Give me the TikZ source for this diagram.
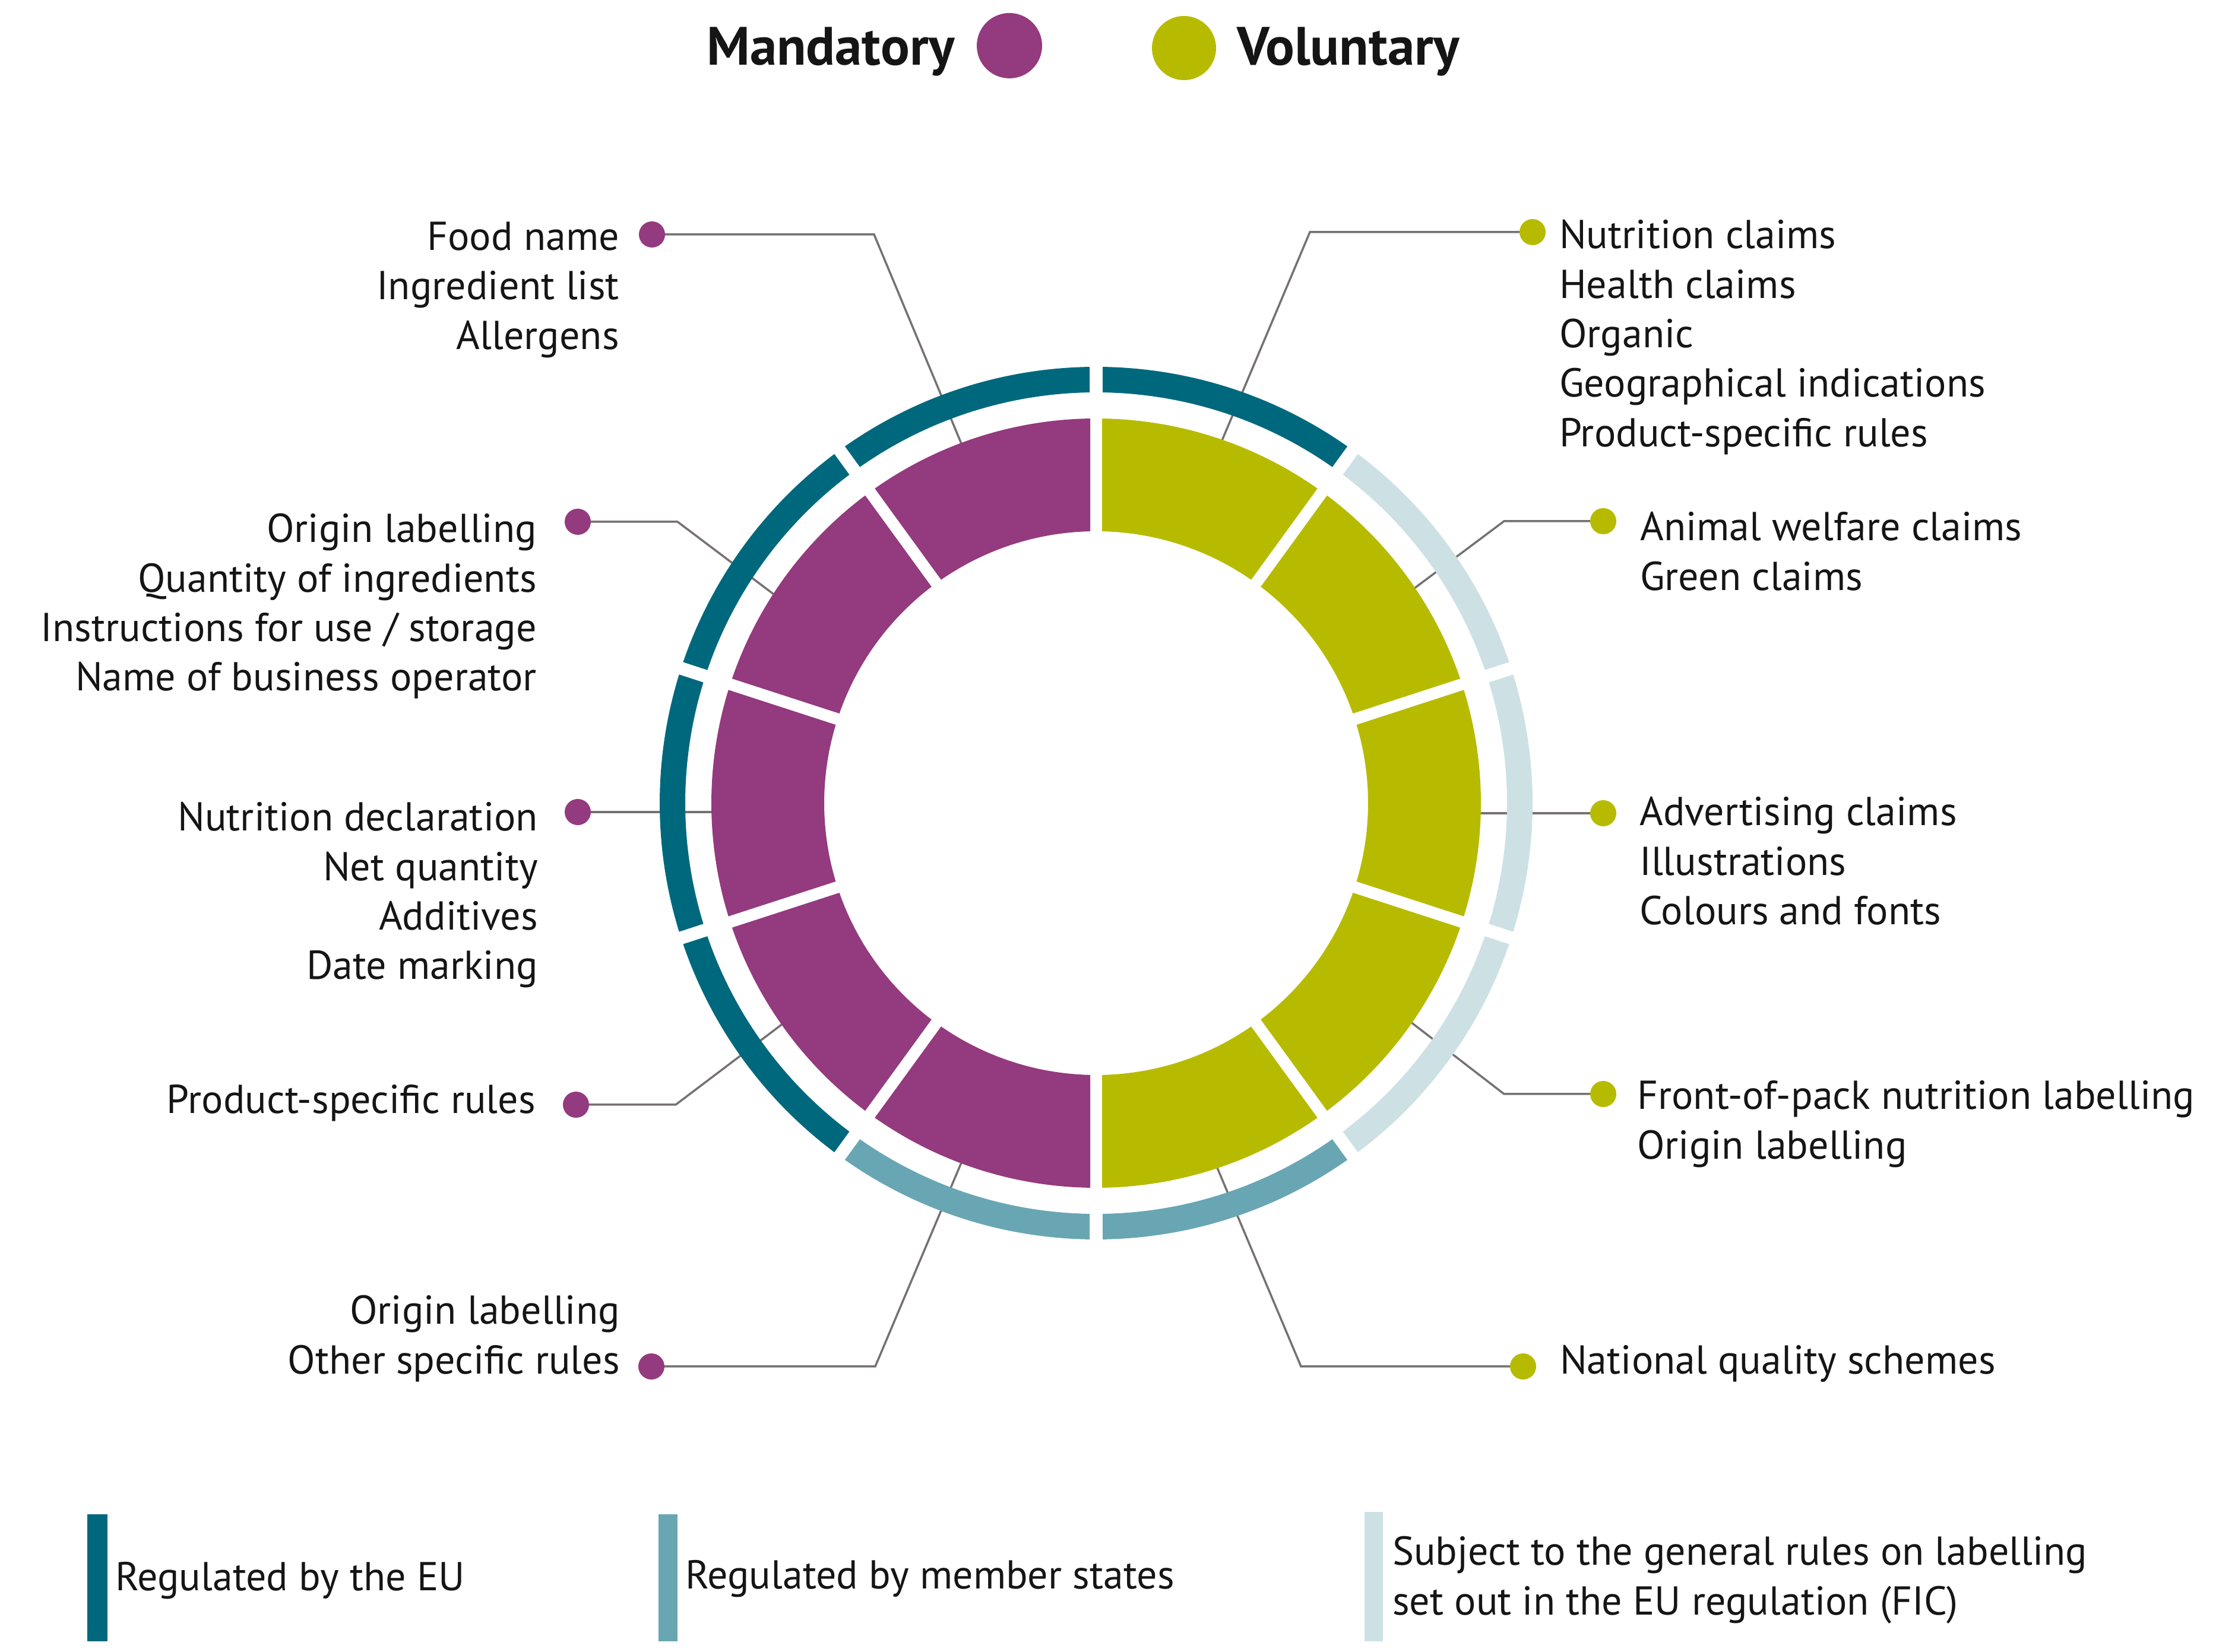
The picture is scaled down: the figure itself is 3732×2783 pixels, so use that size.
\documentclass[tikz,border=0pt]{standalone}
\usepackage{fontspec}
\setmainfont{PT Sans}
\definecolor{mand}{HTML}{943A7E}
\definecolor{volu}{HTML}{B7BB00}
\definecolor{eu}{HTML}{00687D}
\definecolor{ms}{HTML}{69A6B3}
\definecolor{gen}{HTML}{CDE1E5}
\definecolor{lead}{HTML}{767171}
\definecolor{txt}{HTML}{151515}
\newcommand\ringseg[6]{%
  \pgfmathsetmacro\dIn{asin(#5/2/#3)}%
  \pgfmathsetmacro\dOut{asin(#5/2/#4)}%
  \pgfmathsetmacro\aOs{#1+\dOut}\pgfmathsetmacro\aOe{#2-\dOut}%
  \pgfmathsetmacro\aIs{#1+\dIn}\pgfmathsetmacro\aIe{#2-\dIn}%
  \fill[#6] (\aOs:#4pt) arc[start angle=\aOs, end angle=\aOe, radius=#4pt]
    -- (\aIe:#3pt) arc[start angle=\aIe, end angle=\aIs, radius=#3pt] -- cycle;}
\newcommand\lablines[5]{%
  \foreach \t [count=\i] in {#5}
    \node[lbl, anchor=#2] (#1-\i) at (#3, {#4-(\i-1)*83.3}) {\t};}
\tikzset{
  lbl/.style={inner sep=0pt, font=\fontsize{68}{83}\selectfont, text=txt},
  ttl/.style={inner sep=0pt, font=\fontsize{91}{100}\selectfont\bfseries, text=txt},
  mdot/.style={circle, fill=mand, inner sep=0pt, minimum size=44pt},
  vdot/.style={circle, fill=volu, inner sep=0pt, minimum size=44pt},
  leader/.style={draw=lead, line width=3.5pt},
}
\begin{document}
\begin{tikzpicture}[x=1pt,y=1pt]
\useasboundingbox (0,0) rectangle (3732,2783);
% title legend
\node[ttl, anchor=base west] (mandt) at (1190,2673) {Mandatory};
\node[circle, fill=mand, inner sep=0pt, minimum size=110pt] (mandc) at (1700,2706) {};
\node[circle, fill=volu, inner sep=0pt, minimum size=108pt] (voluc) at (1994,2702) {};
\node[ttl, anchor=base west] (volut) at (2083,2673) {Voluntary};
% dots
\node[mdot] (dL1) at (1098,2388) {};
\node[mdot] (dL2) at (973,1904) {};
\node[mdot] (dL3) at (973,1415) {};
\node[mdot] (dL4) at (970,922) {};
\node[mdot] (dL5) at (1097,481) {};
\node[vdot] (dR1) at (2581,2392) {};
\node[vdot] (dR2) at (2700,1905) {};
\node[vdot] (dR3) at (2700,1413) {};
\node[vdot] (dR4) at (2700,940) {};
\node[vdot] (dR5) at (2565,481) {};
% corners and ends (ends hidden under the ring)
\coordinate (kL1) at (1472,2388); \coordinate (eL1) at (1641,1983);
\coordinate (kL2) at (1141,1904); \coordinate (eL2) at (1340,1754);
\coordinate (eL3) at (1300,1415);
\coordinate (kL4) at (1138,922);  \coordinate (eL4) at (1360,1090);
\coordinate (kL5) at (1474,481);  \coordinate (eL5) at (1648,893);
\coordinate (kR1) at (2206,2392); \coordinate (eR1) at (2031,1977);
\coordinate (kR2) at (2533,1905); \coordinate (eR2) at (2350,1768);
\coordinate (eR3) at (2400,1413);
\coordinate (kR4) at (2533,940);  \coordinate (eR4) at (2345,1085);
\coordinate (kR5) at (2191,481);  \coordinate (eR5) at (2030,863);
\draw[leader] (dL1) -- (kL1) -- (eL1);
\draw[leader] (dL2) -- (kL2) -- (eL2);
\draw[leader] (dL3) -- (eL3);
\draw[leader] (dL4) -- (kL4) -- (eL4);
\draw[leader] (dL5) -- (kL5) -- (eL5);
\draw[leader] (dR1) -- (kR1) -- (eR1);
\draw[leader] (dR2) -- (kR2) -- (eR2);
\draw[leader] (dR3) -- (eR3);
\draw[leader] (dR4) -- (kR4) -- (eR4);
\draw[leader] (dR5) -- (kR5) -- (eR5);
% donut
\begin{scope}[shift={(1846,1430)}]
  \foreach \a/\c in {90/mand,126/mand,162/mand,198/mand,234/mand,-90/volu,-54/volu,-18/volu,18/volu,54/volu}
    \ringseg{\a}{\a+36}{458}{648}{20}{\c};
  \foreach \a/\c in {90/eu,126/eu,162/eu,198/eu,234/ms,-90/ms,-54/gen,-18/gen,18/gen,54/eu}
    \ringseg{\a}{\a+36}{692}{735}{22}{\c};
\end{scope}
% labels
\lablines{tL1}{base east}{1043}{2361.5}{Food name,Ingredient list,Allergens}
\lablines{tL2}{base east}{904}{1869}{Origin labelling,Quantity of ingredients,Instructions for use / storage,Name of business operator}
\lablines{tL3}{base east}{906}{1383}{Nutrition declaration,Net quantity,Additives,Date marking}
\lablines{tL4}{base east}{902}{907}{Product-specific rules}
\lablines{tL5}{base east}{1044}{552}{Origin labelling,Other specific rules}
\lablines{tR1}{base west}{2626}{2364}{Nutrition claims,Health claims,Organic,Geographical indications,Product-specific rules}
\lablines{tR2}{base west}{2762}{1872}{Animal welfare claims,Green claims}
\lablines{tR3}{base west}{2761}{1392}{Advertising claims,Illustrations,Colours and fonts}
\lablines{tR4}{base west}{2757}{914}{Front-of-pack nutrition labelling,Origin labelling}
\lablines{tR5}{base west}{2627}{468}{National quality schemes}
% bottom legend
\fill[eu] (147,18) rectangle (181,232);
\node[lbl, anchor=base west] (leg1) at (194,103) {Regulated by the EU};
\fill[ms] (1109,18) rectangle (1141,232);
\node[lbl, anchor=base west] (leg2) at (1154,106) {Regulated by member states};
\fill[gen] (2298,18) rectangle (2329,236);
\lablines{leg3}{base west}{2345}{146}{Subject to the general rules on labelling,set out in the EU regulation (FIC)}
\end{tikzpicture}
\end{document}
